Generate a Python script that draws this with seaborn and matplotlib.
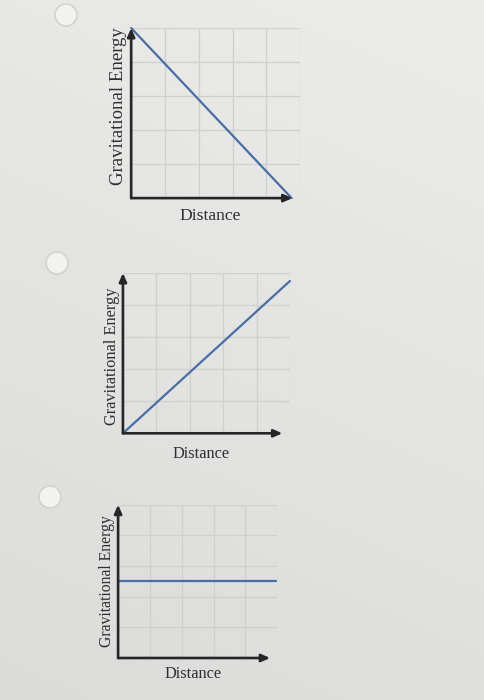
import numpy as np
import seaborn as sns
import matplotlib.pyplot as plt
from matplotlib.patches import Ellipse

# values (5 x 5 grid units each)
dist_falling = [0, 4.75]
energy_falling = [5, 0]
dist_rising = [0, 5]
energy_rising = [0, 4.75]
dist_flat = [0, 4.95]
energy_flat = [2.5, 2.5]

x_label = 'Distance'
y_label = 'Gravitational Energy'

sns.set_style('white')
plt.rcParams['font.family'] = ['Liberation Serif', 'DejaVu Serif']

fig = plt.figure(figsize=(4.84, 7), dpi=100)

# photo background, slightly uneven grey
bg = fig.add_axes([0, 0, 1, 1], zorder=-10)
gy, gx = np.mgrid[0:1:200j, 0:1:140j]
shade = 0.925 - 0.05 * gy - 0.015 * (1 - gx)
bg.imshow(np.dstack([shade, shade, shade * 0.995]), aspect='auto',
          extent=[0, 1, 0, 1], origin='upper')
bg.axis('off')

# faint radio buttons at the left
for cx, cy in [(66, 15), (57, 263), (50, 497)]:
    fig.patches.append(Ellipse((cx / 484, 1 - cy / 700), 22 / 484, 22 / 700,
                               transform=fig.transFigure, facecolor='#f2f2f0',
                               edgecolor='#d2d2d0', linewidth=1.2))

# rect, x, y, ylabel size, xlabel size, ylabel pos, xlabel pos
panels = [
    ([0.271, 0.717, 0.349, 0.243], dist_falling, energy_falling, 13.5, 12.6,
     (-0.025, 0.54), (0.47, -0.06)),
    ([0.254, 0.381, 0.345, 0.229], dist_rising, energy_rising, 11.8, 11.8,
     (-0.015, 0.48), (0.47, -0.08)),
    ([0.244, 0.060, 0.329, 0.219], dist_flat, energy_flat, 11.3, 11.8,
     (-0.02, 0.50), (0.47, -0.055)),
]

for rect, xs, ys, yfs, xfs, ylab_pos, xlab_pos in panels:
    ax = fig.add_axes(rect)
    ax.set_facecolor('none')
    sns.lineplot(x=xs, y=ys, ax=ax, color='#4a6da4', linewidth=1.6,
                 clip_on=False, zorder=3)
    ax.set_xlim(0, 5)
    ax.set_ylim(0, 5)
    ax.set_xticks(range(6))
    ax.set_yticks(range(6))
    ax.tick_params(length=0, labelbottom=False, labelleft=False)
    ax.grid(True, color='#cfcfcd', linewidth=0.9)
    for s in ax.spines.values():
        s.set_visible(False)

    arrow = dict(arrowstyle='-|>,head_length=0.5,head_width=0.22',
                 color='#262626', linewidth=1.9, shrinkA=0, shrinkB=0)
    ax.annotate('', xy=(0, 1.0), xytext=(0, 0), xycoords='axes fraction',
                arrowprops=arrow, zorder=4)
    ax.annotate('', xy=(0.955, 0), xytext=(0, 0), xycoords='axes fraction',
                arrowprops=arrow, zorder=4)

    ax.set_ylabel(y_label, fontsize=yfs, color='#2e2e2e')
    ax.set_xlabel(x_label, fontsize=xfs, color='#2e2e2e')
    ax.yaxis.set_label_coords(*ylab_pos)
    ax.xaxis.set_label_coords(*xlab_pos)

fig.savefig('out.png', dpi=100)
